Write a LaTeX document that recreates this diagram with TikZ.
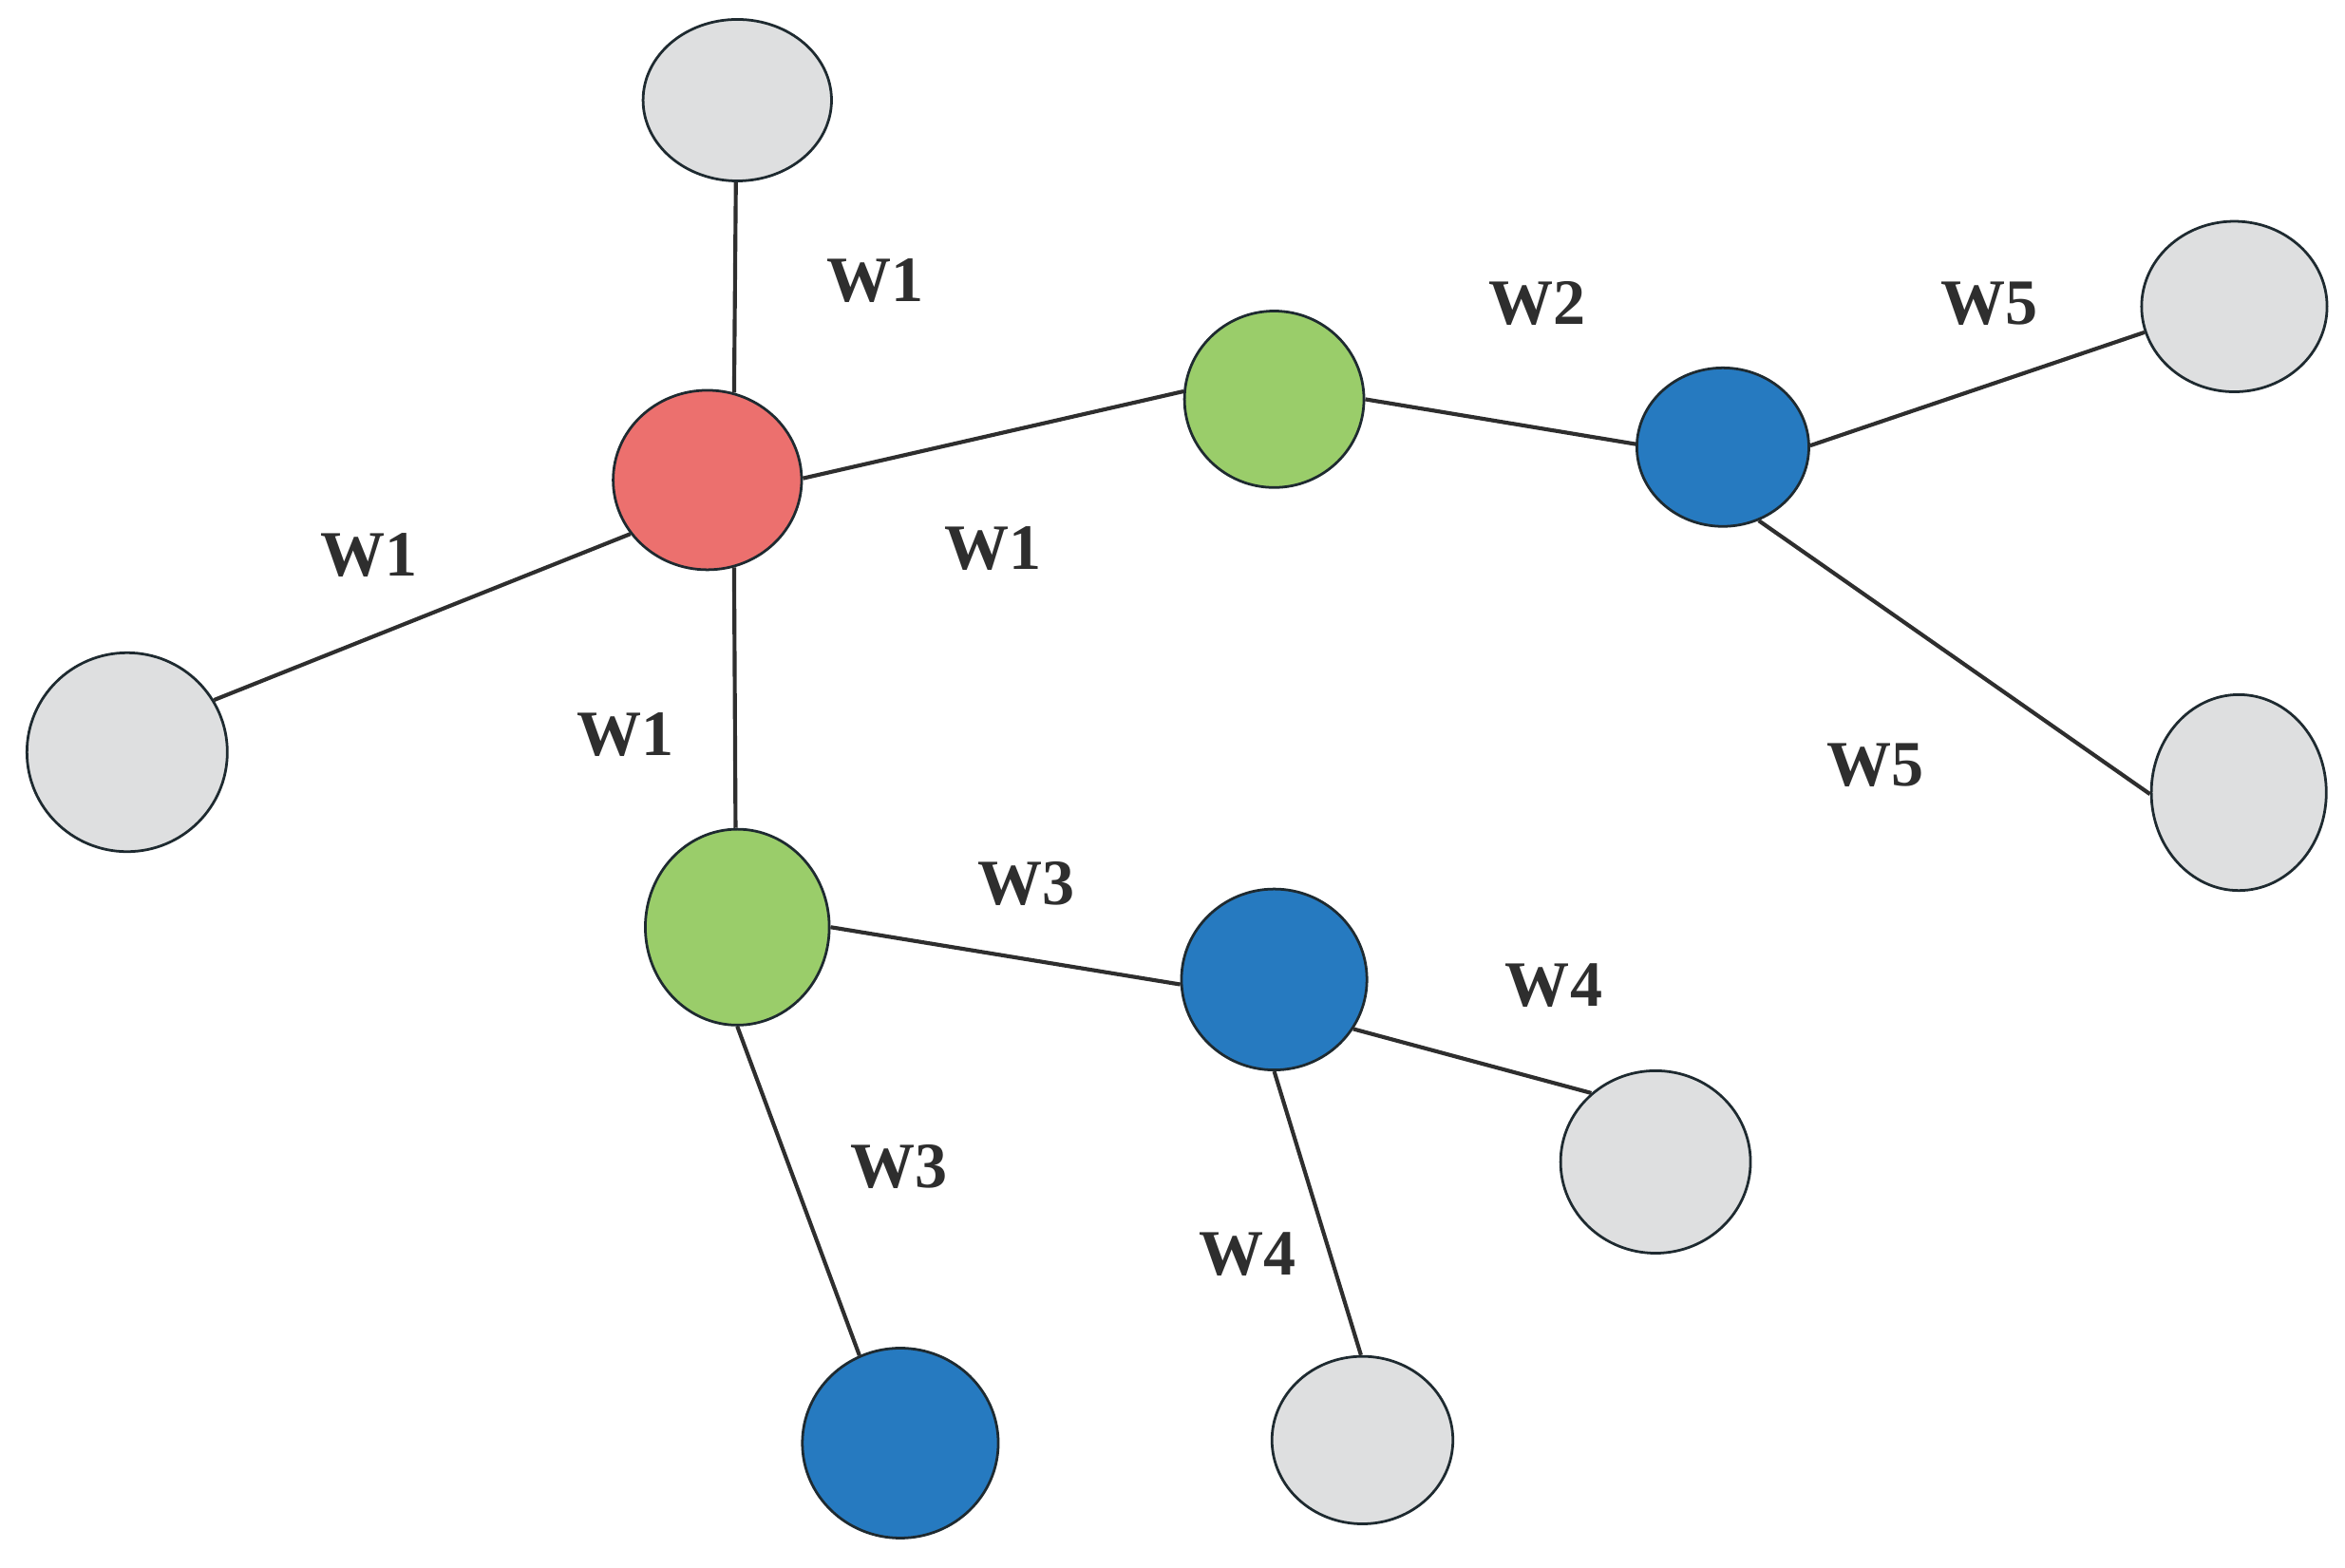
\documentclass[tikz,border=0pt]{standalone}
\usepackage{fontspec}
\setmainfont{Liberation Serif}
\usetikzlibrary{shapes.geometric}
\definecolor{myleafcolor}{HTML}{DEDFE0}
\definecolor{myrootcolor}{HTML}{EC706E}
\definecolor{myhubcolor}{HTML}{9ACD6A}
\definecolor{mybluecolor}{HTML}{267AC0}
\definecolor{mylinecolor}{HTML}{2E2E2E}
\definecolor{myedgecolor}{HTML}{1E2A30}
\tikzset{
  blob/.style={draw=myedgecolor, line width=0.5pt, ellipse, inner sep=0pt},
  leaf/.style={blob, fill=myleafcolor},
  link/.style={draw=mylinecolor, line width=0.75pt},
  weight/.style={text=mylinecolor, font=\fontsize{12.3pt}{12.3pt}\selectfont\bfseries}
}

\begin{document}
\begin{tikzpicture}[x=0.1mm, y=-0.1mm]%
\useasboundingbox (0,0) rectangle (1568,1048);%
\node[leaf, minimum width=12.6mm, minimum height=10.8mm] (top) at (493, 67) {};%
\node[blob, fill=myrootcolor, minimum width=12.6mm, minimum height=12.0mm] (root) at (473, 321) {};%
\node[leaf, minimum width=13.4mm, minimum height=13.3mm] (left) at (85, 503) {};%
\node[blob, fill=myhubcolor, minimum width=12.0mm, minimum height=11.8mm] (hubA) at (852, 267) {};%
\node[blob, fill=mybluecolor, minimum width=11.5mm, minimum height=10.6mm] (blueA) at (1152, 299) {};%
\node[leaf, minimum width=12.4mm, minimum height=11.4mm] (rtop) at (1494, 205) {};%
\node[leaf, minimum width=11.7mm, minimum height=13.1mm] (rbot) at (1497, 530) {};%
\node[blob, fill=myhubcolor, minimum width=12.3mm, minimum height=13.1mm] (hubB) at (493, 620) {};%
\node[blob, fill=mybluecolor, minimum width=12.4mm, minimum height=12.1mm] (blueB) at (852, 655) {};%
\node[leaf, minimum width=12.7mm, minimum height=12.2mm] (mid) at (1107, 777) {};%
\node[leaf, minimum width=12.1mm, minimum height=11.2mm] (low) at (911, 963) {};%
\node[blob, fill=mybluecolor, minimum width=13.1mm, minimum height=12.7mm] (blueC) at (602, 965) {};%
\draw[link] (top.-91) -- (root.73);%
\draw[link] (root.-73) -- (hubB.91);%
\draw[link] (root.215) -- (left.31);%
\draw[link] (root.1) -- (hubA.175);%
\draw[link] (hubA.0) -- (blueA.178);%
\draw[link] (blueA.1) -- (rtop.196);%
\draw[link] (blueA.-64) -- (rbot.181);%
\draw[link] (hubB.0) -- (blueB.183);%
\draw[link] (hubB.-90) -- (blueC.115);%
\draw[link] (blueB.-32) -- (mid.133);%
\draw[link] (blueB.-90) -- (low.91);%
\node[weight] (wa) at (585, 188) {W1};%
\node[weight] (wb) at (247, 371) {W1};%
\node[weight] (wc) at (664, 367) {W1};%
\node[weight] (wd) at (418, 491) {W1};%
\node[weight] (we) at (1028, 203) {W2};%
\node[weight] (wf) at (1330, 203) {W5};%
\node[weight] (wg) at (1254, 512) {W5};%
\node[weight] (wh) at (686, 591) {W3};%
\node[weight] (wi) at (601, 780) {W3};%
\node[weight] (wj) at (1039, 659) {W4};%
\node[weight] (wk) at (834, 839) {W4};%
\end{tikzpicture}
\end{document}
